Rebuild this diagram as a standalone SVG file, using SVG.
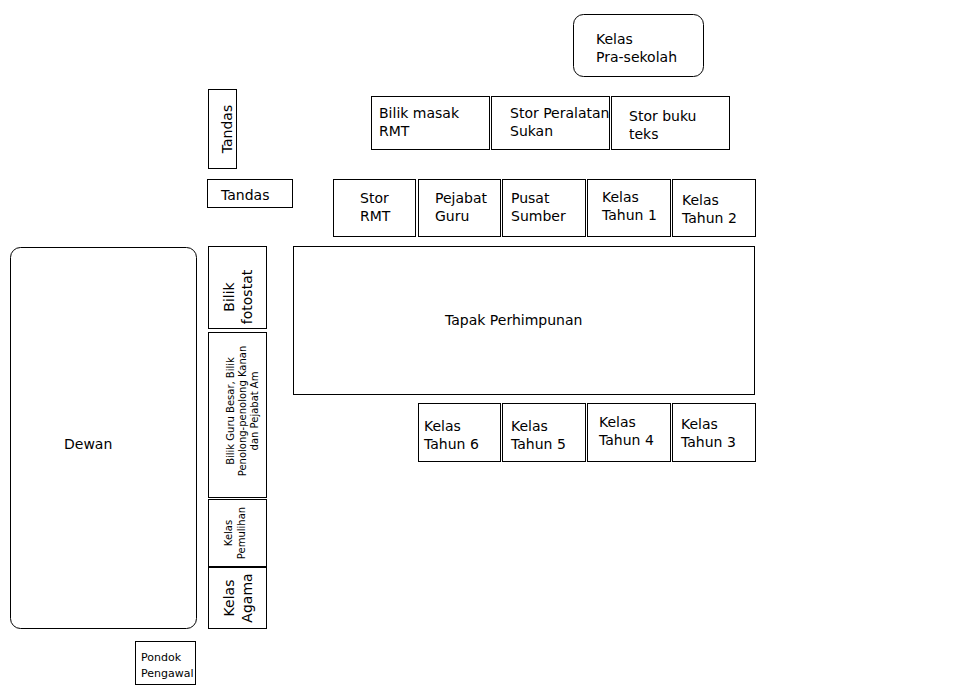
<svg xmlns="http://www.w3.org/2000/svg" width="959" height="696" viewBox="0 0 959 696">
<style>
rect{fill:#fff;stroke:#000;stroke-width:1}
text{font-family:"DejaVu Sans",Verdana,sans-serif;font-size:14px;fill:#000}
.s{font-size:10px}
.m{font-size:11px}
</style>
<rect x="0" y="0" width="959" height="696" style="stroke:none"/>
<g id="prasekolah"><rect x="573.5" y="14.5" width="130" height="62" rx="10"/><text x="596" y="44">Kelas</text><text x="596" y="62">Pra-sekolah</text></g>
<g id="bilikmasak"><rect x="371.5" y="96.5" width="118" height="53"/><text x="379" y="118">Bilik masak</text><text x="379" y="136">RMT</text></g>
<g id="storsukan"><rect x="491.5" y="96.5" width="118" height="53"/><text x="510" y="118">Stor Peralatan</text><text x="510" y="136">Sukan</text></g>
<g id="storbuku"><rect x="611.5" y="96.5" width="118" height="53"/><text x="629" y="121">Stor buku</text><text x="629" y="139">teks</text></g>
<g id="tandas1"><rect x="208.5" y="89.5" width="28" height="79"/><text transform="translate(227,129) rotate(-90)" text-anchor="middle" dy="5">Tandas</text></g>
<g id="tandas2"><rect x="207.5" y="179.5" width="85" height="28"/><text x="221" y="200">Tandas</text></g>
<g id="storrmt"><rect x="333.5" y="179.5" width="82" height="57"/><text x="360" y="203">Stor</text><text x="360" y="221">RMT</text></g>
<g id="pejabat"><rect x="418.5" y="179.5" width="82" height="57"/><text x="435" y="203">Pejabat</text><text x="435" y="221">Guru</text></g>
<g id="pusat"><rect x="502.5" y="179.5" width="83" height="57"/><text x="511" y="203">Pusat</text><text x="511" y="221">Sumber</text></g>
<g id="t1"><rect x="587.5" y="179.5" width="83" height="57"/><text x="602" y="202">Kelas</text><text x="602" y="220">Tahun 1</text></g>
<g id="t2"><rect x="672.5" y="179.5" width="83" height="57"/><text x="682" y="205">Kelas</text><text x="682" y="223">Tahun 2</text></g>
<g id="dewan"><rect x="10.5" y="247.5" width="186" height="381" rx="10"/><text x="64" y="449">Dewan</text></g>
<g id="fotostat"><rect x="208.5" y="246.5" width="58" height="82"/><text transform="translate(234,297) rotate(-90)" text-anchor="middle">Bilik</text><text transform="translate(252,297) rotate(-90)" text-anchor="middle">fotostat</text></g>
<g id="gurubesar"><rect x="208.5" y="332.5" width="58" height="165"/><text class="s" transform="translate(234,411) rotate(-90)" text-anchor="middle">Bilik Guru Besar, Bilik</text><text class="s" transform="translate(246,411) rotate(-90)" text-anchor="middle">Penolong-penolong Kanan</text><text class="s" transform="translate(258,411) rotate(-90)" text-anchor="middle">dan Pejabat Am</text></g>
<g id="pemulihan"><rect x="208.5" y="499.5" width="58" height="67"/><text class="s" transform="translate(232,533) rotate(-90)" text-anchor="middle">Kelas</text><text class="s" transform="translate(245,533) rotate(-90)" text-anchor="middle">Pemulihan</text></g>
<g id="agama"><rect x="208.5" y="567.5" width="58" height="61"/><text transform="translate(234,598) rotate(-90)" text-anchor="middle">Kelas</text><text transform="translate(252,598) rotate(-90)" text-anchor="middle">Agama</text></g>
<g id="tapak"><rect x="293.5" y="246.5" width="461" height="148"/><text x="445" y="325">Tapak Perhimpunan</text></g>
<g id="t6"><rect x="418.5" y="403.5" width="82" height="58"/><text x="424" y="431">Kelas</text><text x="424" y="449">Tahun 6</text></g>
<g id="t5"><rect x="502.5" y="403.5" width="83" height="58"/><text x="511" y="431">Kelas</text><text x="511" y="449">Tahun 5</text></g>
<g id="t4"><rect x="587.5" y="403.5" width="83" height="58"/><text x="599" y="427">Kelas</text><text x="599" y="445">Tahun 4</text></g>
<g id="t3"><rect x="672.5" y="403.5" width="83" height="58"/><text x="681" y="429">Kelas</text><text x="681" y="447">Tahun 3</text></g>
<g id="pondok"><rect x="135.5" y="641.5" width="60" height="43"/><text class="m" x="141" y="661">Pondok</text><text class="m" x="141" y="677">Pengawal</text></g>
<g id="connectors"/>
</svg>
